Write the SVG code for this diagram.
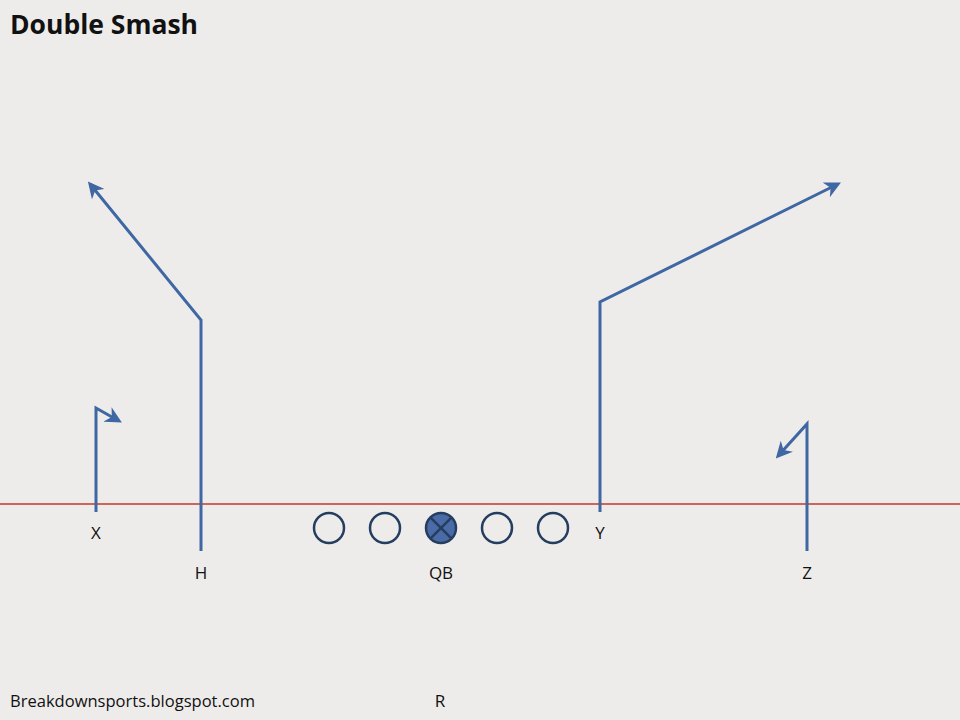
<svg xmlns="http://www.w3.org/2000/svg" width="960" height="720" viewBox="0 0 960 720">
<style>
.route{fill:none;stroke:#3E67A3;stroke-width:3;stroke-linejoin:miter}
.player{fill:none;stroke:#253E5F;stroke-width:2.5}
.lbl{font-family:"Open Sans","Liberation Sans",sans-serif;font-size:17px;fill:#111;text-anchor:middle}
</style>
<defs>
<marker id="arr" viewBox="0 0 10 10" refX="8" refY="5" markerWidth="5.5" markerHeight="5.5" orient="auto" markerUnits="strokeWidth">
<path d="M0,0 L10,5 L0,10 L3,5 Z" fill="#3E67A3"/>
</marker>
</defs>
<rect width="960" height="720" fill="#EEECEA"/>
<text x="10" y="34" font-family="'Open Sans','Liberation Sans',sans-serif" font-weight="bold" font-size="26" fill="#111" textLength="188" lengthAdjust="spacingAndGlyphs">Double Smash</text>
<line x1="0" y1="504" x2="960" y2="504" stroke="#C0392B" stroke-width="1.5"/>
<g id="connectors">
<polyline class="route" points="96,512 96,408 119,421" marker-end="url(#arr)"/>
<polyline class="route" points="201,551 201,320 90,184" marker-end="url(#arr)"/>
<polyline class="route" points="600,512 600,302 838,184" marker-end="url(#arr)"/>
<polyline class="route" points="807,551 807,424 778,456" marker-end="url(#arr)"/>
</g>
<g id="ol1"><circle class="player" cx="329" cy="528" r="15"/></g>
<g id="ol2"><circle class="player" cx="385" cy="528" r="15"/></g>
<g id="qb-center"><circle cx="441" cy="528" r="15" fill="#4A6BA6" stroke="#253E5F" stroke-width="2.5"/>
<line x1="430.4" y1="517.4" x2="451.6" y2="538.6" stroke="#253E5F" stroke-width="2.5"/>
<line x1="451.6" y1="517.4" x2="430.4" y2="538.6" stroke="#253E5F" stroke-width="2.5"/></g>
<g id="ol4"><circle class="player" cx="497" cy="528" r="15"/></g>
<g id="ol5"><circle class="player" cx="553" cy="528" r="15"/></g>
<g id="X"><text class="lbl" x="96" y="539">X</text></g>
<g id="H"><text class="lbl" x="201" y="579">H</text></g>
<g id="QB"><text class="lbl" x="441" y="579">QB</text></g>
<g id="Y"><text class="lbl" x="600" y="539">Y</text></g>
<g id="Z"><text class="lbl" x="807" y="579">Z</text></g>
<g id="R"><text class="lbl" x="440" y="707">R</text></g>
<text x="10" y="707" font-family="'Open Sans','Liberation Sans',sans-serif" font-size="16" fill="#111" textLength="245" lengthAdjust="spacingAndGlyphs">Breakdownsports.blogspot.com</text>
</svg>
